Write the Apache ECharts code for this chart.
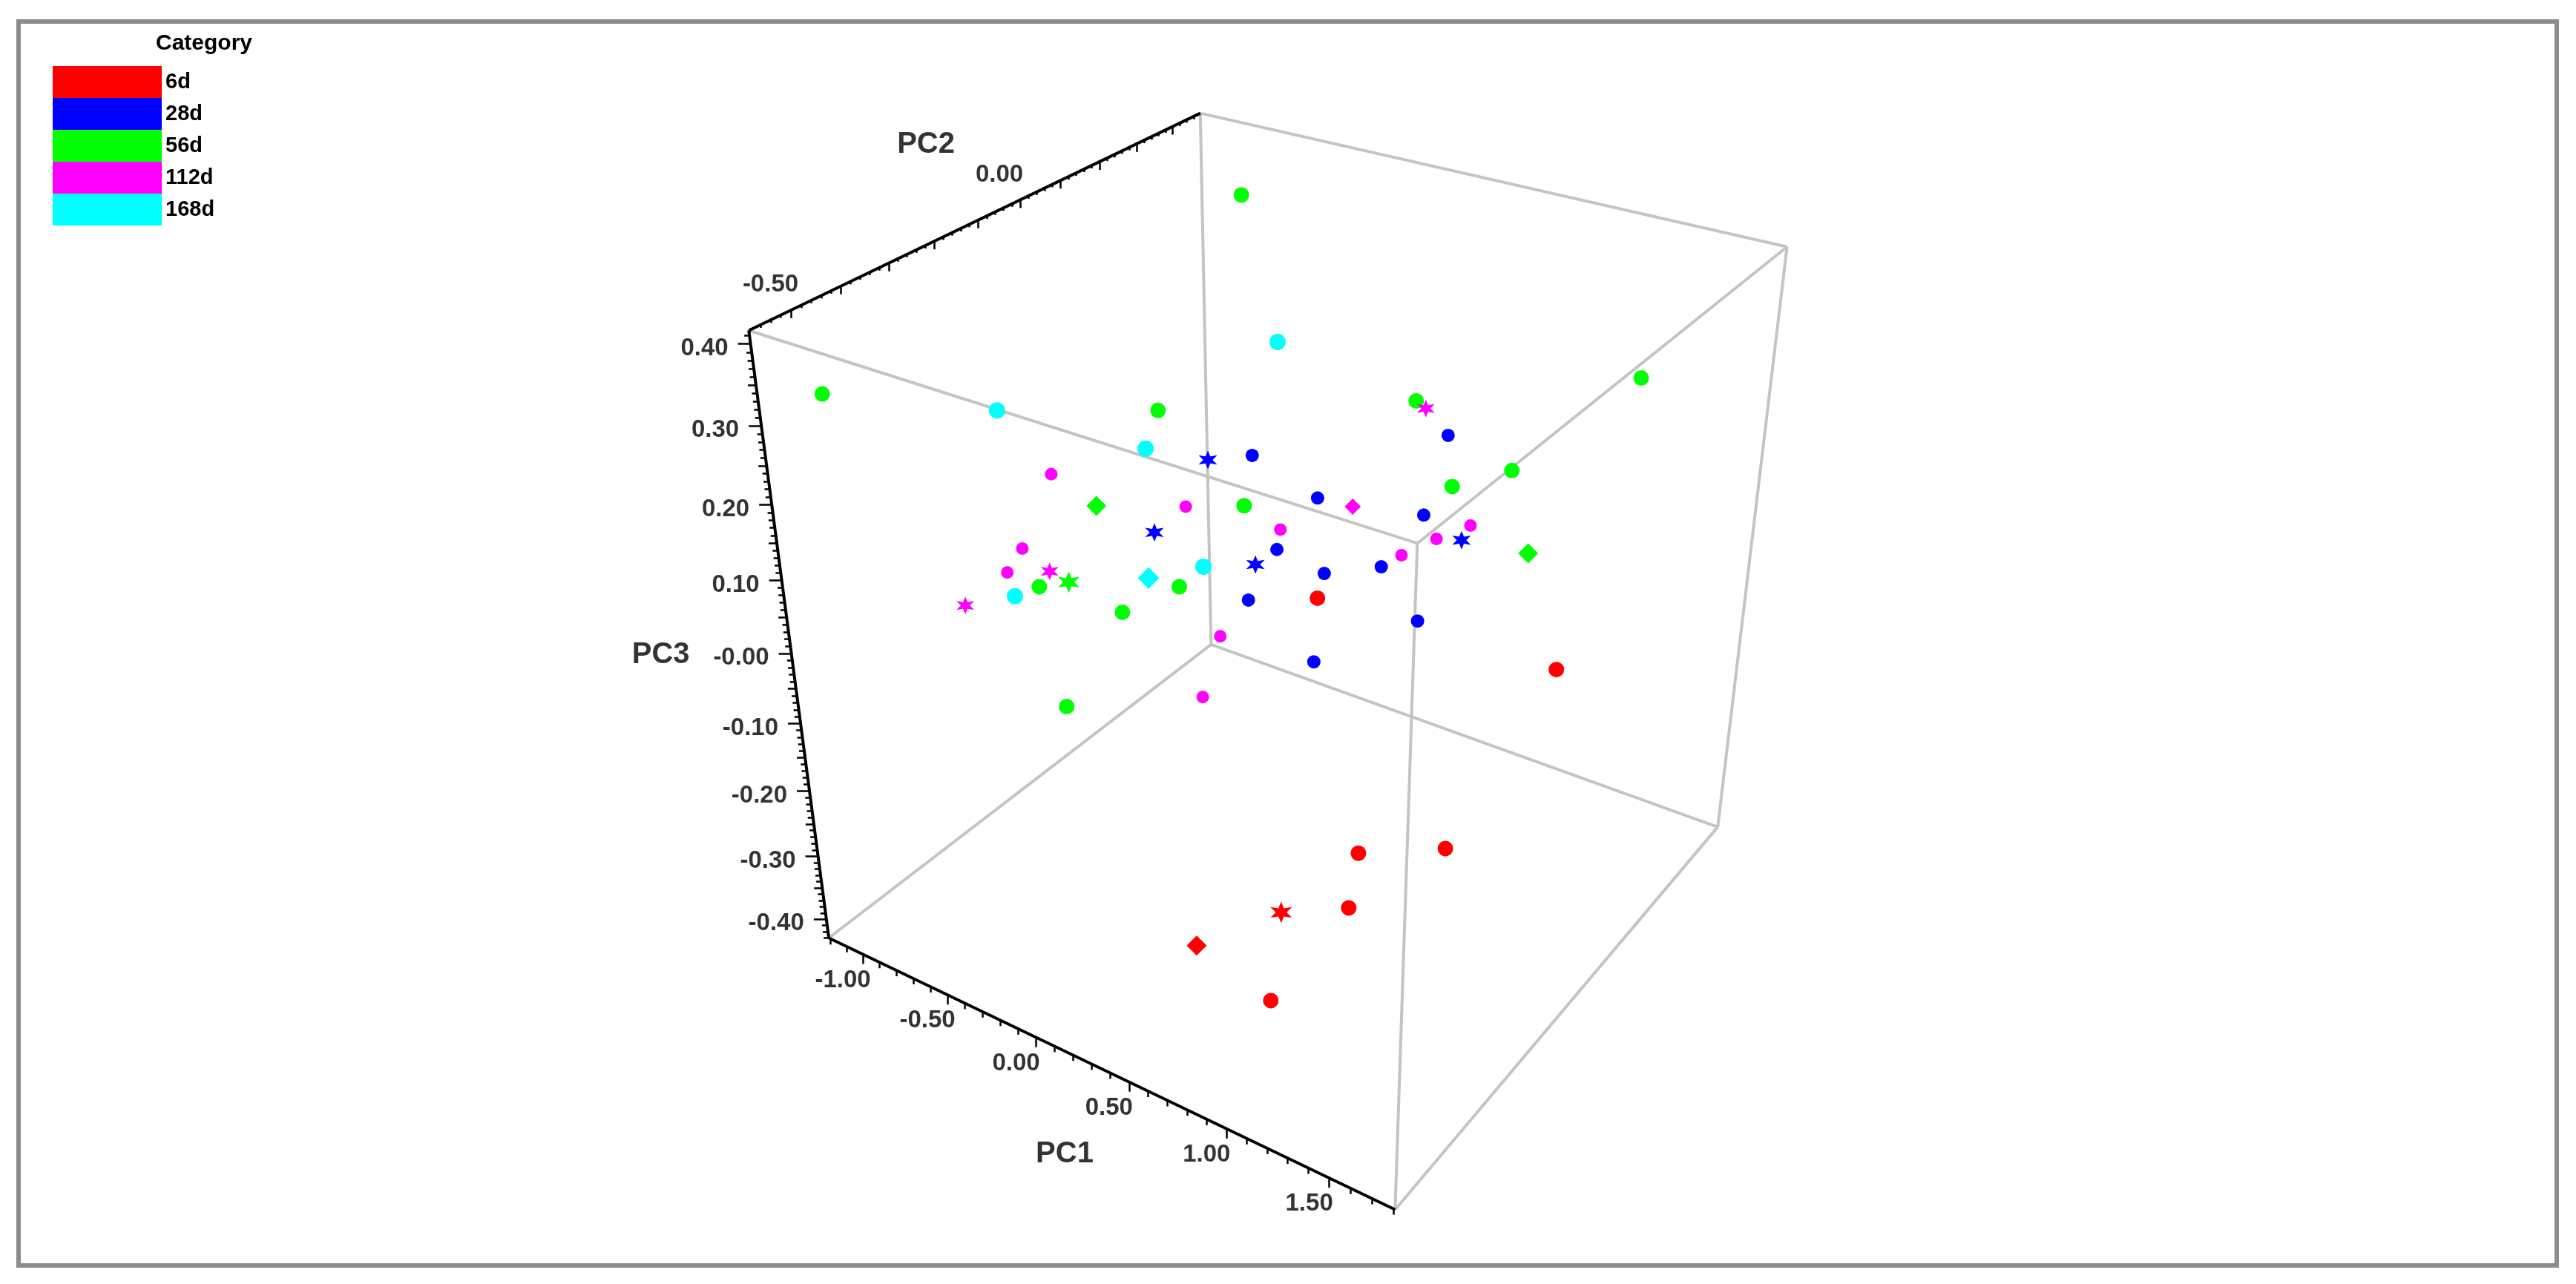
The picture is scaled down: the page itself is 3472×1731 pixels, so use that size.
<!DOCTYPE html>
<html>
<head>
<meta charset="utf-8">
<script src="https://cdn.jsdelivr.net/npm/echarts@6/dist/echarts.min.js"></script>
<style>
html,body{margin:0;padding:0;background:#ffffff;overflow:hidden;}
#c{width:100vw;height:100vh;}
</style>
</head>
<body>
<div id="c"></div>
<script>
// ---------------- DATA (PC1, PC2, PC3 per sample) ----------------
const categories = ['6d', '28d', '56d', '112d', '168d'];

const d6 = [
  [0.397, -0.021, 0.002], [1.356, 0.135, -0.073], [0.865, -0.155, -0.266], [1.176, -0.078, -0.261],
  [0.658, -0.260, -0.328], [0.899, -0.200, -0.323], [0.392, -0.354, -0.363], [1.056, -0.496, -0.280]
];
const d28 = [
  [-0.019, 0.018, 0.152], [-0.176, -0.022, 0.147], [0.669, 0.198, 0.173], [0.271, 0.046, 0.107],
  [0.679, 0.125, 0.089], [-0.279, -0.116, 0.071], [0.188, -0.023, 0.053], [0.128, -0.051, 0.037],
  [0.391, 0.001, 0.028], [0.590, 0.054, 0.035], [0.849, 0.140, 0.063], [0.148, -0.081, 0.000],
  [0.790, 0.049, -0.022], [0.463, -0.066, -0.065]
];
const d56 = [
  [-0.793, 0.388, 0.348], [-1.057, -0.511, 0.328], [-0.419, -0.032, 0.199], [0.509, 0.194, 0.209],
  [-0.523, -0.148, 0.099], [0.014, -0.022, 0.099], [0.747, 0.168, 0.119], [0.945, 0.229, 0.136],
  [1.299, 0.401, 0.233], [1.108, 0.188, 0.049], [-0.528, -0.222, 0.019], [-0.630, -0.250, 0.014],
  [-0.120, -0.131, 0.014], [-0.296, -0.196, -0.013], [-0.381, -0.306, -0.112]
];
const d112 = [
  [-0.728, -0.165, 0.132], [-0.198, -0.072, 0.098], [0.410, 0.070, 0.098], [0.176, -0.007, 0.074],
  [0.862, 0.158, 0.078], [0.755, 0.120, 0.064], [0.649, 0.079, 0.047], [0.554, 0.197, 0.201],
  [-0.740, -0.239, 0.054], [-0.764, -0.268, 0.029], [-0.612, -0.231, 0.030], [-0.877, -0.325, -0.006],
  [0.091, -0.129, -0.038], [0.103, -0.184, -0.102]
];
const d168 = [
  [-0.069, 0.115, 0.271], [-1.005, -0.169, 0.199], [-0.416, -0.068, 0.159], [-0.244, -0.151, 0.023],
  [-0.058, -0.097, 0.035], [-0.707, -0.277, 0.004]
];

// axis ranges and tick labels
const pc1Range = [-1.208, 1.808];
const pc2Range = [-0.582, 0.479];
const pc3Range = [-0.4305, 0.4161];
const pc1TickLabels = ['-1.00', '-0.50', '0.00', '0.50', '1.00', '1.50'];
const pc2TickLabels = ['-0.50', '0.00'];
const pc3TickLabels = ['0.40', '0.30', '0.20', '0.10', '-0.00', '-0.10', '-0.20', '-0.30', '-0.40'];

// ---------------- STYLE ----------------
const seriesData = { '6d': d6, '28d': d28, '56d': d56, '112d': d112, '168d': d168 };
const colors = { '6d': '#ff0000', '28d': '#0000ff', '56d': '#00ff00', '112d': '#ff00ff', '168d': '#00ffff' };
const sizes = { '6d': 21, '28d': 18, '56d': 21, '112d': 17, '168d': 22 };
const STAR = 'path://M50,0L61,31L93,25L72,50L93,75L61,69L50,100L39,69L7,75L28,50L7,25L39,31Z';
const shapeScale = { star: 1.4, diamond: 1.3 };
const markerShapes = {
  '6d': { 4: 'star', 6: 'diamond' },
  '28d': { 1: 'star', 5: 'star', 7: 'star', 10: 'star' },
  '56d': { 4: 'diamond', 9: 'diamond', 10: 'star' },
  '112d': { 2: 'diamond', 7: 'star', 10: 'star', 11: 'star' },
  '168d': { 3: 'diamond' }
};
const FONT = "'Liberation Sans', Arial, Helvetica, sans-serif";
const VIEW = { azimuth: -33.6, elevation: 31.2, distance: 6.7 };

const chart = echarts.init(document.getElementById('c'), null, { renderer: 'canvas' });
const W = chart.getWidth(), H = chart.getHeight();
const CX = W * 0.5, CY = H * 0.47256, S = H * 0.26863;   // view centre and scale (px per view unit)

const rad = Math.PI / 180;
const ca = Math.cos(VIEW.azimuth * rad), sa = Math.sin(VIEW.azimuth * rad);
const ce = Math.cos(VIEW.elevation * rad), se = Math.sin(VIEW.elevation * rad);
function norm(v, r) { return (2 * v - r[0] - r[1]) / (r[1] - r[0]); }
function project(p1, p2, p3) {
  const X = norm(p1, pc1Range), Y = norm(p2, pc2Range), Z = norm(p3, pc3Range);
  const xr = X * ca - Y * sa;
  const yr = X * sa + Y * ca;
  const sy = Z * ce + yr * se;
  const dv = -yr * ce + Z * se;
  const f = VIEW.distance / (VIEW.distance - dv);
  return [xr * f, sy * f];
}
function off(p, dx, dy) { return [p[0] + dx / S, p[1] - dy / S]; }

// cube edges
const cornerVal = (i, j, k) => [pc1Range[i], pc2Range[j], pc3Range[k]];
const grayEdges = [], blackEdges = [];
const axisEdgeKeys = ['000-001', '001-011', '000-100'];
for (let i = 0; i < 2; i++) for (let j = 0; j < 2; j++) for (let k = 0; k < 2; k++) {
  const a = [i, j, k];
  [[1 - i, j, k], [i, 1 - j, k], [i, j, 1 - k]].forEach(b => {
    if (b.join('') > a.join('')) {
      const seg = { coords: [project(...cornerVal(...a)), project(...cornerVal(...b))] };
      (axisEdgeKeys.includes(a.join('') + '-' + b.join('')) ? blackEdges : grayEdges).push(seg);
    }
  });
}

// ticks
const ticks = [];
for (let k = Math.ceil(pc1Range[0] * 10); k <= Math.floor(pc1Range[1] * 10); k++) {
  const p = project(k / 10, pc2Range[0], pc3Range[0]);
  ticks.push({ coords: [p, off(p, 0, k % 5 === 0 ? 13 : 8)] });
}
for (let k = Math.ceil(pc2Range[0] * 50); k <= Math.floor(pc2Range[1] * 50); k++) {
  const p = project(pc1Range[0], k / 50, pc3Range[1]);
  ticks.push({ coords: [p, off(p, 0, k % 5 === 0 ? 11 : 4)] });
}
for (let k = Math.ceil(pc3Range[0] * 100); k <= Math.floor(pc3Range[1] * 100); k++) {
  const p = project(pc1Range[0], pc2Range[0], k / 100);
  ticks.push({ coords: [p, off(p, k % 10 === 0 ? -17 : (k % 5 === 0 ? -11 : -7), 0)] });
}

// text labels
const texts = [];
const tickFont = { fontSize: 33, fontWeight: 'bold', fontFamily: FONT, color: '#000' };
pc1TickLabels.forEach(t => {
  const p = project(parseFloat(t), pc2Range[0], pc3Range[0]);
  texts.push({ value: off(p, -27, 35), label: Object.assign({ formatter: t, align: 'center' }, tickFont) });
});
pc2TickLabels.forEach(t => {
  const p = project(pc1Range[0], parseFloat(t), pc3Range[1]);
  texts.push({ value: off(p, -28, -34), label: Object.assign({ formatter: t, align: 'center' }, tickFont) });
});
pc3TickLabels.forEach(t => {
  const p = project(pc1Range[0], pc2Range[0], parseFloat(t));
  texts.push({ value: off(p, -30, 6), label: Object.assign({ formatter: t, align: 'right' }, tickFont) });
});
const titleFont = { fontSize: 40, fontWeight: 'bold', fontFamily: FONT, color: '#000' };
texts.push({ value: off(project((pc1Range[0] + pc1Range[1]) / 2, pc2Range[0], pc3Range[0]), -36, 122),
  label: Object.assign({ formatter: 'PC1', align: 'center' }, titleFont) });
texts.push({ value: off(project(pc1Range[0], (pc2Range[0] + pc2Range[1]) / 2, pc3Range[1]), -98, -88),
  label: Object.assign({ formatter: 'PC2', align: 'center' }, titleFont) });
texts.push({ value: off(project(pc1Range[0], pc2Range[0], 0), -137, 2),
  label: Object.assign({ formatter: 'PC3', align: 'right' }, titleFont) });

// scatter series
const scatterSeries = categories.map(cat => ({
  name: cat,
  type: 'scatter',
  z: 5,
  symbolSize: sizes[cat],
  itemStyle: { color: colors[cat], opacity: 1 },
  data: seriesData[cat].map((d, i) => {
    const item = { value: project(d[0], d[1], d[2]) };
    const shp = markerShapes[cat][i];
    if (shp) {
      item.symbol = shp === 'star' ? STAR : shp;
      item.symbolSize = Math.round(sizes[cat] * shapeScale[shp]);
    }
    return item;
  })
}));

chart.setOption({
  animation: false,
  backgroundColor: '#ffffff',
  title: {
    text: 'Category', left: 210, top: 44, padding: 0,
    textStyle: { fontSize: 30, fontWeight: 'bold', fontFamily: FONT, color: '#000' }
  },
  legend: {
    data: categories, orient: 'vertical', left: 71, top: 89, padding: 0,
    itemWidth: 147, itemHeight: 43, itemGap: 0, icon: 'rect', selectedMode: false,
    textStyle: { fontSize: 29, fontWeight: 'bold', fontFamily: FONT, color: '#000', lineHeight: 40 }
  },
  grid: { left: 0, right: 0, top: 0, bottom: 0 },
  xAxis: { type: 'value', min: -CX / S, max: (W - CX) / S, show: false },
  yAxis: { type: 'value', min: -(H - CY) / S, max: CY / S, show: false },
  graphic: [{
    type: 'rect', shape: { x: 25, y: 29, width: 3421, height: 1677 },
    style: { fill: 'none', stroke: '#8c8c8c', lineWidth: 6 }, z: 0
  }],
  series: [
    { type: 'lines', coordinateSystem: 'cartesian2d', z: 1, silent: true,
      lineStyle: { color: '#c4c4c4', width: 4, opacity: 1 }, data: grayEdges },
    { type: 'lines', coordinateSystem: 'cartesian2d', z: 2, silent: true,
      lineStyle: { color: '#000000', width: 4, opacity: 1 }, data: blackEdges },
    { type: 'lines', coordinateSystem: 'cartesian2d', z: 2, silent: true,
      lineStyle: { color: '#000000', width: 2.5, opacity: 1 }, data: ticks },
    ...scatterSeries,
    { type: 'scatter', z: 6, silent: true, symbolSize: 1, itemStyle: { color: 'rgba(0,0,0,0)' },
      label: { show: true, position: 'inside', verticalAlign: 'middle' }, data: texts }
  ]
});
</script>
</body>
</html>
